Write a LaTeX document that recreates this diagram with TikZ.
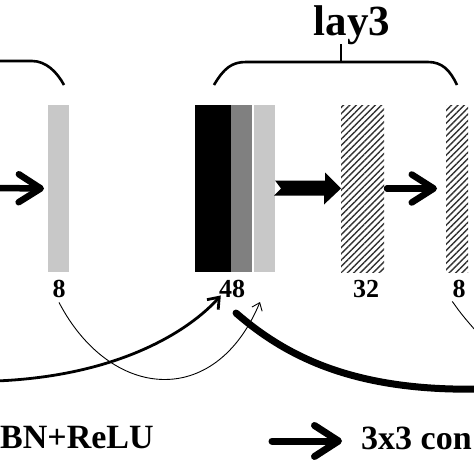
\documentclass[tikz,border=0pt]{standalone}
\usepackage{fontspec}
\setmainfont{Liberation Serif}
\usetikzlibrary{arrows.meta, patterns.meta, calc}
\definecolor{lightbar}{RGB}{200, 200, 200}
\definecolor{darkbar}{RGB}{128, 128, 128}
\definecolor{hatchgray}{RGB}{50, 50, 50}

\begin{document}
\begin{tikzpicture}[x=1pt, y=-1pt, font=\bfseries,
    bar/.style={rectangle, draw=none, inner sep=0pt, outer sep=0pt, minimum height=167pt},
    hatchbar/.style={bar, pattern={Lines[angle=45, distance=4.5pt, line width=1.4pt]}, pattern color=hatchgray},
    num/.style={font=\fontsize{26}{26}\selectfont\bfseries, inner sep=0pt, anchor=base},
    legtext/.style={font=\fontsize{34}{34}\selectfont\bfseries, inner sep=0pt, anchor=base west},
    convarrow/.style={line width=6.5pt, line cap=round, -{Straight Barb[length=22pt, width=28pt, line cap=round, line join=round]}},
    brace/.style={line width=2.6pt}]
                \useasboundingbox (0,0) rectangle (474,474);
                \clip (0,0) rectangle (474,474);

                % Feature maps
                \node[bar, fill=lightbar, minimum width=21pt] (in8) at (58.5, 188.5) {};
                \node[bar, fill=black, minimum width=36pt] (cat1) at (213, 188.5) {};
                \node[bar, fill=darkbar, minimum width=21pt] (cat2) at (241.5, 188.5) {};
                \node[bar, fill=lightbar, minimum width=21pt] (cat3) at (264.5, 188.5) {};
                \node[hatchbar, minimum width=43pt] (mid32) at (362.5, 188.5) {};
                \node[hatchbar, minimum width=22pt] (out8) at (457, 188.5) {};

                % Channel counts
                \node[num] (n8a) at (59, 297) {8};
                \node[num] (n48) at (232, 297) {48};
                \node[num] (n32) at (366, 297) {32};
                \node[num] (n8b) at (459, 297) {8};

                % Braces
                \draw[brace] (-5, 61) -- (32, 61) .. controls (46, 61) and (57, 72) .. (64, 85);
                \draw[brace] (214, 85) .. controls (224, 68) and (232, 62) .. (246, 62) -- (428, 62) .. controls (442, 62) and (450, 70) .. (457, 85);
                \node[font=\fontsize{43}{43}\selectfont\bfseries, anchor=base, inner sep=0pt] (lay3) at (352, 35) {lay3};
                \coordinate (bracemid) at (341, 62);
                \draw[brace] (bracemid) -- (bracemid |- lay3.south);

                % Conv arrows
                \coordinate (instart) at (-8, 188);
                \draw[convarrow, shorten >=4pt] (instart) -- (in8.west);
                \fill (cat3.east) ++(0, -8) -- ++(50, 0) -- ++(0, -8) -- (mid32.west) -- ++(-17, 16) -- ++(0, -9)
                      -- ++(-50, 0) -- ++(7, -7) -- cycle;
                \draw[convarrow, shorten <=3pt, shorten >=9pt] (mid32.east) -- (out8.west);

                % Skip connections
                \coordinate (thintip) at (260, 302);
                \draw[line width=0.9pt, -{Straight Barb[length=7pt, width=11pt]}] ([yshift=-5pt]n8a.south) .. controls (110, 400) and (215, 410) .. (thintip);
                \coordinate (medstart) at (-4, 381);
                \draw[line width=2.8pt, -{Straight Barb[length=10pt, width=15pt]}] (medstart) .. controls (120, 376) and (190, 330) .. ([shift={(2pt,2pt)}]n48.south west);
                \coordinate (thickstart) at (236, 313);
                \coordinate (thickend) at (484, 389);
                \draw[line width=7pt, line cap=round] (thickstart) .. controls (290, 360) and (360, 392) .. (thickend);
                \coordinate (rightend) at (482, 338);
                \draw[line width=0.9pt] ([yshift=-4pt]n8b.south west) .. controls (462, 315) .. (rightend);

                % Legend
                \node[legtext] (lbn) at (0, 448) {BN+ReLU};
                \node[legtext] (lconv) at (361, 449) {3x3 con};
                \coordinate (legstart) at (272, 441);
                \coordinate (legtip) at (342, 441);
                \draw[line width=7pt, line cap=round, -{Straight Barb[length=24pt, width=31pt, line cap=round, line join=round]}] (legstart) -- (legtip);
\end{tikzpicture}
\end{document}
